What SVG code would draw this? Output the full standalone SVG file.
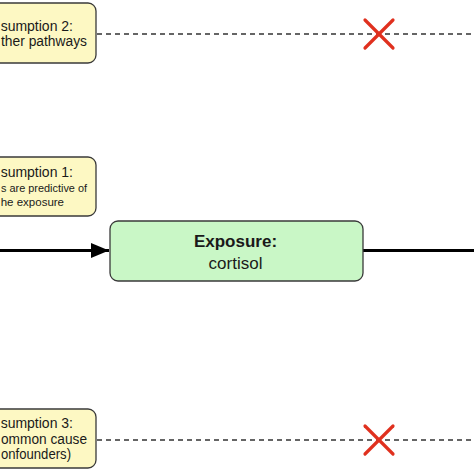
<svg xmlns="http://www.w3.org/2000/svg" width="474" height="474" viewBox="0 0 474 474">
<defs>
<style>
.asm{fill:#fdf8c3;stroke:#3a3a3a;stroke-width:1.3}
.exp{fill:#c9f7c6;stroke:#3a3a3a;stroke-width:1.3}
.t{font-family:"Liberation Sans",Arial,sans-serif;fill:#1a1a1a}
.dash{stroke:#333;stroke-width:1.3;stroke-dasharray:5 4;fill:none}
.solid{stroke:#000;stroke-width:3.2;fill:none}
.x{stroke:#e0301e;stroke-width:3.2;stroke-linecap:round}
</style>
<marker id="ah" markerWidth="20" markerHeight="16" refX="18" refY="7.5" orient="auto" markerUnits="userSpaceOnUse">
<path d="M0,0 L18,7.5 L0,15 Z" fill="#000"/>
</marker>
</defs>
<rect width="474" height="474" fill="#fff"/>
<g id="connectors">
<line class="solid" x1="0" y1="250.5" x2="109" y2="250.5" marker-end="url(#ah)"/>
<line class="solid" x1="363" y1="250.5" x2="474" y2="250.5"/>
<line class="dash" x1="97" y1="34" x2="474" y2="34"/>
<line class="dash" x1="97" y1="440" x2="474" y2="440"/>
</g>
<g id="cross1">
<line class="x" x1="365" y1="20" x2="393" y2="48"/>
<line class="x" x1="393" y1="20" x2="365" y2="48"/>
</g>
<g id="cross2">
<line class="x" x1="365" y1="426" x2="393" y2="454"/>
<line class="x" x1="393" y1="426" x2="365" y2="454"/>
</g>
<g id="assumption2">
<rect class="asm" x="-20" y="3" width="116" height="60" rx="8"/>
<text class="t" x="73" y="31" font-size="14" text-anchor="end">sumption 2:</text>
<text class="t" x="1" y="45.5" font-size="14" textLength="86" lengthAdjust="spacingAndGlyphs">ther pathways</text>
</g>
<g id="assumption1">
<rect class="asm" x="-20" y="157" width="116" height="59" rx="8"/>
<text class="t" x="73" y="177" font-size="14" text-anchor="end">sumption 1:</text>
<text class="t" x="1" y="192" font-size="11.5" textLength="86" lengthAdjust="spacingAndGlyphs">s are predictive of</text>
<text class="t" x="64" y="205.5" font-size="11.5" text-anchor="end">he exposure</text>
</g>
<g id="assumption3">
<rect class="asm" x="-20" y="409" width="116" height="59" rx="8"/>
<text class="t" x="73" y="428" font-size="14" text-anchor="end">sumption 3:</text>
<text class="t" x="1" y="443.5" font-size="14" textLength="86" lengthAdjust="spacingAndGlyphs">ommon cause</text>
<text class="t" x="1" y="458.5" font-size="14" textLength="70" lengthAdjust="spacingAndGlyphs">onfounders)</text>
</g>
<g id="exposure">
<rect class="exp" x="110" y="221" width="253" height="60" rx="8"/>
<text class="t" x="235.5" y="247" font-size="17" font-weight="bold" text-anchor="middle">Exposure:</text>
<text class="t" x="235.5" y="268.5" font-size="17" text-anchor="middle">cortisol</text>
</g>
</svg>
